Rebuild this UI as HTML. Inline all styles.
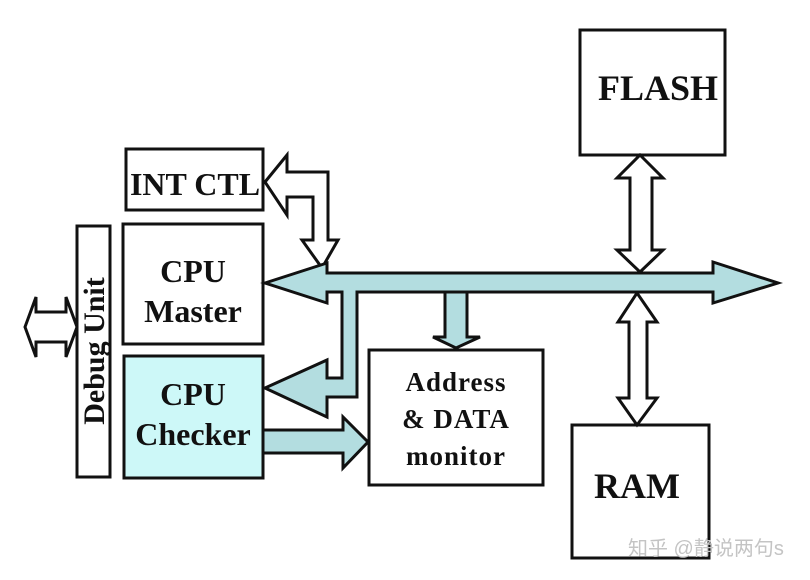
<!DOCTYPE html>
<html><head><meta charset="utf-8"><style>
html,body{margin:0;padding:0;background:#fff;}
svg{display:block;}
text{font-family:"Liberation Serif",serif;font-weight:bold;fill:#111;}
</style></head><body>
<svg width="810" height="580" viewBox="0 0 810 580" xmlns="http://www.w3.org/2000/svg">
<g stroke="#111" stroke-width="3" fill="#fff">
<rect x="580" y="30" width="145" height="125"/>
<rect x="126" y="149" width="137" height="61"/>
<rect x="77" y="226" width="33" height="251"/>
<rect x="123" y="224" width="140" height="120"/>
<rect x="124" y="356" width="139" height="122" fill="#cdf8f8"/>
<rect x="369" y="350" width="174" height="135"/>
<rect x="572" y="425" width="137" height="133"/>
</g>
<g stroke="#111" stroke-width="3" fill="#fff" stroke-linejoin="miter">
<polygon points="25,327 36,297 36,312 66,312 66,297 77,327 66,357 66,342 36,342 36,357"/>
<polygon points="265,182 287,155 287,172 328,172 328,240 338,240 322,268 302,240 313,240 313,197 287,197 287,215"/>
<polygon points="640,155 663,178 652,178 652,250 663,250 640,272 617,250 630,250 630,178 617,178"/>
<polygon points="637,293 657,322 647,322 647,398 657,398 637,425 618,398 629,398 629,322 618,322"/>
</g>
<g stroke="#111" stroke-width="3" fill="#b3dde0" stroke-linejoin="miter">
<polygon points="265,283 327,263 327,273 713,273 713,262 778,283 713,303 713,292 357,292 357,397 327,397 327,417 265,388 327,360 327,378 342,378 342,292 327,292 327,303"/>
<polygon points="445,292 467,292 467,337 480,337 456,348 433,337 445,337"/>
<polygon points="263,430 343,430 343,417 368,442 343,468 343,453 263,453"/>
</g>
<text x="658" y="100" font-size="36" text-anchor="middle">FLASH</text>
<text x="195" y="195" font-size="32" text-anchor="middle">INT CTL</text>
<text x="193" y="282" font-size="32" text-anchor="middle">CPU</text>
<text x="193" y="322" font-size="32" text-anchor="middle">Master</text>
<text x="193" y="405" font-size="32" text-anchor="middle">CPU</text>
<text x="193" y="445" font-size="32" text-anchor="middle">Checker</text>
<text x="456" y="391" font-size="27" text-anchor="middle" letter-spacing="1">Address</text>
<text x="456" y="428" font-size="27" text-anchor="middle" letter-spacing="1">&amp; DATA</text>
<text x="456" y="465" font-size="27" text-anchor="middle" letter-spacing="1">monitor</text>
<text x="637" y="498" font-size="36" text-anchor="middle">RAM</text>
<text transform="translate(104,351) rotate(-90)" font-size="30" text-anchor="middle">Debug Unit</text>
<text x="628" y="555" font-size="20" style="font-family:'Liberation Sans','Noto Sans CJK SC',sans-serif;font-weight:normal;fill:#c4c4c4">知乎 @静说两句s</text>
</svg>
</body></html>
